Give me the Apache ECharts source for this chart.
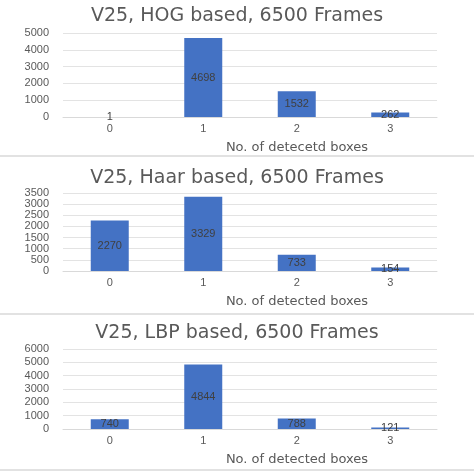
<!DOCTYPE html><html><head><meta charset="utf-8"><script src="https://cdn.jsdelivr.net/npm/echarts@6/dist/echarts.min.js"></script>
<style>html,body{margin:0;background:#fff}#c{width:474px;height:474px}</style></head><body><div id="c"></div><script>
const categories=['0','1','2','3'];
const titles=['V25, HOG based, 6500 Frames','V25, Haar based, 6500 Frames','V25, LBP based, 6500 Frames'];
const xNames=['No. of detecetd boxes','No. of detected boxes','No. of detected boxes'];
const hogValues=[1,4698,1532,262];
const haarValues=[2270,3329,733,154];
const lbpValues=[740,4844,788,121];
const yMax=[5000,3500,6000];
const yInterval=[1000,500,1000];
const data=[hogValues,haarValues,lbpValues];
const grids=[{top:33,bottom:474-117,left:63,right:37},{top:193,bottom:474-271,left:63,right:37},{top:349,bottom:474-429,left:63,right:37}];
const titleTops=[2,164,319];
const gray='#595959';
const opt={animation:false,title:[],grid:grids,xAxis:[],yAxis:[],series:[],
graphic:[{type:'line',shape:{x1:0,y1:156,x2:474,y2:156},style:{stroke:'#d9d9d9',lineWidth:1.5}},
{type:'line',shape:{x1:0,y1:314,x2:474,y2:314},style:{stroke:'#d9d9d9',lineWidth:1.5}},
{type:'line',shape:{x1:0,y1:470,x2:474,y2:470},style:{stroke:'#d9d9d9',lineWidth:1.5}}]};
for(let i=0;i<3;i++){
opt.title.push({text:titles[i],left:'center',top:titleTops[i],textStyle:{color:gray,fontSize:19,fontWeight:'normal',fontFamily:'DejaVu Sans'}});
opt.xAxis.push({type:'category',gridIndex:i,data:categories,axisTick:{show:false},axisLine:{lineStyle:{color:'#d9d9d9'}},
axisLabel:{color:gray,fontSize:11,margin:6},name:xNames[i],nameLocation:'middle',nameGap:24,
nameTextStyle:{color:gray,fontSize:13,padding:[0,0,0,94],fontFamily:'DejaVu Sans'}});
opt.yAxis.push({type:'value',gridIndex:i,min:0,max:yMax[i],interval:yInterval[i],axisLabel:{color:gray,fontSize:11,margin:14,formatter:v=>String(v)},
splitLine:{lineStyle:{color:'#e3e3e3'}}});
opt.series.push({type:'bar',xAxisIndex:i,yAxisIndex:i,data:data[i],barWidth:38,itemStyle:{color:'#4472C4'},
label:{show:true,position:'inside',color:'#404040',fontSize:11}});
}
echarts.init(document.getElementById('c')).setOption(opt);
</script></body></html>
